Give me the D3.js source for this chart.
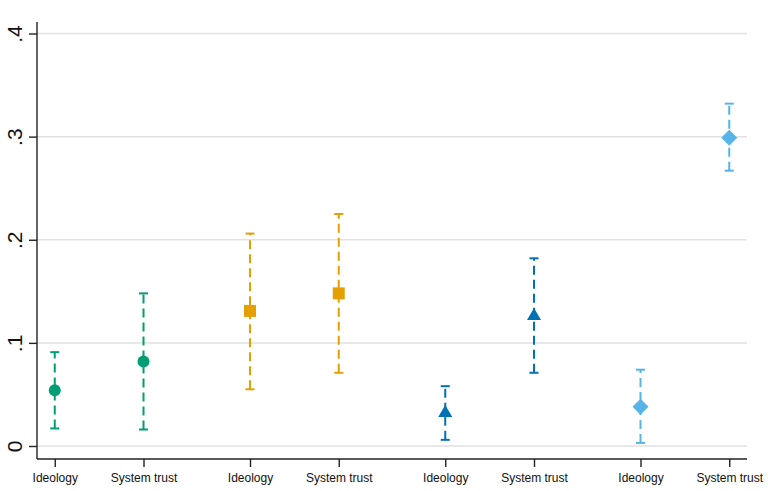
<!DOCTYPE html>
<html>
<head>
<meta charset="utf-8">
<script src="https://cdn.jsdelivr.net/npm/d3@7"></script>
<style>
  html, body { margin: 0; padding: 0; background: #fff; }
  svg { display: block; }
</style>
</head>
<body>
<svg id="chart" width="768" height="491"></svg>
<script>
// Data
const categories = ["Ideology", "System trust", "Ideology", "System trust", "Ideology", "System trust", "Ideology", "System trust"];
const positions = [1, 2, 3.2, 4.2, 5.4, 6.4, 7.6, 8.6];
const estimates = [0.054, 0.082, 0.131, 0.148, 0.033, 0.127, 0.038, 0.299];
const lowerCI   = [0.017, 0.016, 0.055, 0.071, 0.006, 0.071, 0.003, 0.267];
const upperCI   = [0.091, 0.148, 0.206, 0.225, 0.058, 0.182, 0.074, 0.332];
const groups    = [0, 0, 1, 1, 2, 2, 3, 3];
const groupColors  = ["#009E73", "#E69F00", "#0072B2", "#56B4E9"];
const groupSymbols = ["circle", "square", "triangle", "diamond"];
const yTicks = [0, 0.1, 0.2, 0.3, 0.4];
const yTickLabels = ["0", ".1", ".2", ".3", ".4"];

(function () {
const svg = d3.select("#chart");
const plotLeft = 37, plotRight = 747, plotTop = 22, plotBottom = 459;

const x = d3.scaleLinear().domain([0.8, 8.8]).range([plotLeft, plotRight]);
const y = d3.scaleLinear().domain([0, 0.4]).range([446, 33.5]);

// Gridlines
svg.append("g").selectAll("line").data(yTicks).join("line")
  .attr("x1", plotLeft).attr("x2", plotRight)
  .attr("y1", d => y(d)).attr("y2", d => y(d))
  .attr("stroke", "#e1e1e1").attr("stroke-width", 1.5);

// Y axis
const yAxis = d3.axisLeft(y).tickValues(yTicks).tickSize(8).tickPadding(7)
  .tickFormat((d, i) => yTickLabels[i]);
const gy = svg.append("g").attr("transform", `translate(${plotLeft},0)`).call(yAxis);
gy.select(".domain").remove();
gy.append("line").attr("x1", 0).attr("x2", 0).attr("y1", plotTop).attr("y2", plotBottom)
  .attr("stroke", "#222").attr("stroke-width", 1.4);
gy.selectAll(".tick line").attr("stroke", "#222").attr("stroke-width", 1.4);
gy.selectAll(".tick text")
  .attr("font-family", "Liberation Sans, Arial, sans-serif")
  .attr("font-size", 21).attr("fill", "#111")
  .attr("text-anchor", "middle")
  .attr("dy", 0)
  .attr("x", 0)
  .attr("transform", "translate(-15.5,0) rotate(-90)");

// X axis
const xAxis = d3.axisBottom(x).tickValues(positions).tickSize(8).tickPadding(6)
  .tickFormat((d, i) => categories[i]);
const gx = svg.append("g").attr("transform", `translate(0,${plotBottom})`).call(xAxis);
gx.select(".domain").remove();
gx.append("line").attr("x1", plotLeft).attr("x2", plotRight).attr("y1", 0).attr("y2", 0)
  .attr("stroke", "#222").attr("stroke-width", 1.4);
gx.selectAll(".tick line").attr("stroke", "#222").attr("stroke-width", 1.4);
gx.selectAll(".tick text")
  .attr("font-family", "Liberation Sans, Arial, sans-serif")
  .attr("font-size", 12).attr("fill", "#111");

// Points
const pts = positions.map((p, i) => ({ p, est: estimates[i], lo: lowerCI[i], hi: upperCI[i], g: groups[i] }));
const pg = svg.append("g");
pts.forEach(d => {
  const c = groupColors[d.g];
  const cx = x(d.p);
  pg.append("line").attr("x1", cx).attr("x2", cx).attr("y1", y(d.lo)).attr("y2", y(d.hi))
    .attr("stroke", c).attr("stroke-width", 2).attr("stroke-dasharray", "9,5");
  [d.lo, d.hi].forEach(v => {
    pg.append("line").attr("x1", cx - 4.5).attr("x2", cx + 4.5).attr("y1", y(v)).attr("y2", y(v))
      .attr("stroke", c).attr("stroke-width", 2);
  });
  const sym = groupSymbols[d.g];
  const cy = y(d.est);
  if (sym === "circle") {
    pg.append("circle").attr("cx", cx).attr("cy", cy).attr("r", 6).attr("fill", c);
  } else if (sym === "square") {
    pg.append("rect").attr("x", cx - 6).attr("y", cy - 6).attr("width", 12).attr("height", 12).attr("fill", c);
  } else if (sym === "triangle") {
    pg.append("path").attr("d", `M${cx},${cy - 7}L${cx + 7},${cy + 5}L${cx - 7},${cy + 5}Z`).attr("fill", c);
  } else {
    pg.append("path").attr("d", `M${cx},${cy - 8}L${cx + 8},${cy}L${cx},${cy + 8}L${cx - 8},${cy}Z`).attr("fill", c);
  }
});
})();
</script>
</body>
</html>
